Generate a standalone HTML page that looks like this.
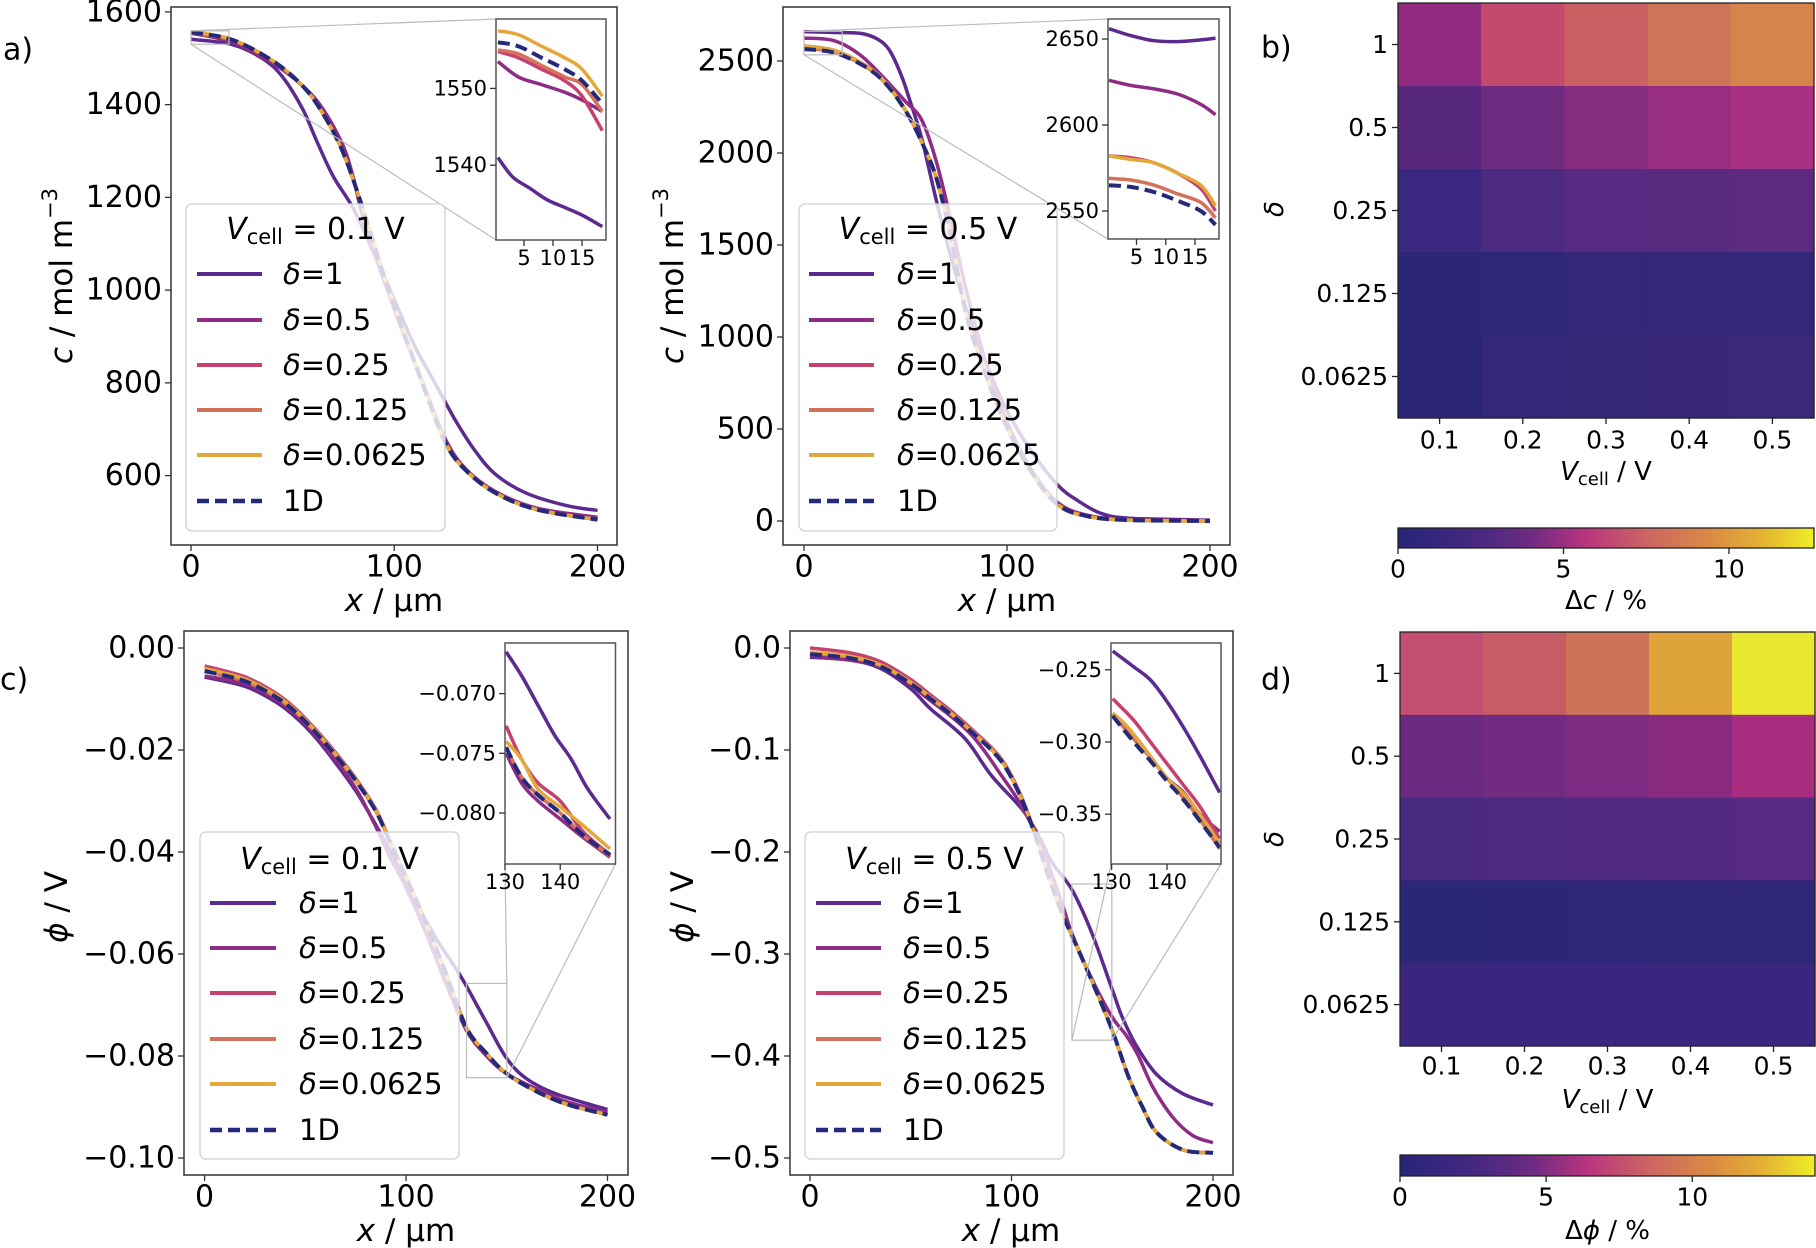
<!DOCTYPE html>
<html><head><meta charset="utf-8">
<style>
html,body{margin:0;padding:0;background:#fff;}
svg{display:block;font-family:"DejaVu Sans","Liberation Sans",sans-serif;}
</style></head>
<body>
<svg id="s" width="1816" height="1248" viewBox="0 0 1816 1248" xmlns="http://www.w3.org/2000/svg"></svg>
<script>
const COL={d1:'#5c2a8f',d05:'#8e2b85',d025:'#c6416f',d0125:'#d4715a',d00625:'#e4a73a',oneD:'#25297a'};
let out='';
function lin(p0,p1,v0,v1){return v=>p0+(v-v0)*(p1-p0)/(v1-v0);}
function path(pts){
  let d='M'+pts[0][0].toFixed(1)+','+pts[0][1].toFixed(1);
  for(let i=0;i<pts.length-1;i++){
    const p0=pts[i-1]||pts[i],p1=pts[i],p2=pts[i+1],p3=pts[i+2]||p2;
    const c1=[p1[0]+(p2[0]-p0[0])/6,p1[1]+(p2[1]-p0[1])/6];
    const c2=[p2[0]-(p3[0]-p1[0])/6,p2[1]-(p3[1]-p1[1])/6];
    d+=`C${c1[0].toFixed(1)},${c1[1].toFixed(1)} ${c2[0].toFixed(1)},${c2[1].toFixed(1)} ${p2[0].toFixed(1)},${p2[1].toFixed(1)}`;
  }
  return d;
}
function off(base,o,fade){return base.map(([x,v])=>[x,v+o*Math.max(0,1-x/fade)]);}
let clipId=0;
function curves(ax,X,Y,set,w){
  const id='c'+(clipId++);
  out+=`<clipPath id="${id}"><rect x="${ax.l}" y="${ax.t}" width="${ax.r-ax.l}" height="${ax.b-ax.t}"/></clipPath><g clip-path="url(#${id})" fill="none" stroke-linejoin="round">`;
  const order=['d1','d05','d025','d0125','d00625'];
  for(const k of order){const p=set[k].map(([x,v])=>[X(x),Y(v)]);out+=`<path d="${path(p)}" stroke="${COL[k]}" stroke-width="${w}"/>`;}
  const p=set.oneD.map(([x,v])=>[X(x),Y(v)]);
  out+=`<path d="${path(p)}" stroke="${COL.oneD}" stroke-width="${w+0.5}" stroke-dasharray="12,6"/>`;
  out+='</g>';
}
function frame(ax,col){out+=`<rect x="${ax.l}" y="${ax.t}" width="${ax.r-ax.l}" height="${ax.b-ax.t}" fill="none" stroke="${col||'#333'}" stroke-width="1.5"/>`;}
function xt(ax,X,vals,labs,fs,dy){vals.forEach((v,i)=>{const x=X(v);out+=`<line x1="${x}" y1="${ax.b}" x2="${x}" y2="${ax.b+6}" stroke="#333" stroke-width="1.3"/><text x="${x}" y="${ax.b+dy}" font-size="${fs}" text-anchor="middle" dominant-baseline="central">${labs[i]}</text>`;});}
function yt(ax,Y,vals,labs,fs){vals.forEach((v,i)=>{const y=Y(v);out+=`<line x1="${ax.l-6}" y1="${y}" x2="${ax.l}" y2="${y}" stroke="#333" stroke-width="1.3"/><text x="${ax.l-9}" y="${y}" font-size="${fs}" text-anchor="end" dominant-baseline="central">${labs[i]}</text>`;});}
function legend(b,vtxt,rows){
  out+=`<rect x="${b.l}" y="${b.t}" width="${b.r-b.l}" height="${b.b-b.t}" rx="6" fill="#fff" fill-opacity="0.8" stroke="#d0d0d0" stroke-width="1.3"/>`;
  out+=`<text x="${(b.l+b.r)/2}" y="${b.title}" font-size="30" text-anchor="middle" dominant-baseline="central"><tspan font-style="italic">V</tspan><tspan font-size="21" dy="8">cell</tspan><tspan dy="-8"> = ${vtxt} V</tspan></text>`;
  const keys=['d1','d05','d025','d0125','d00625','oneD'];
  const labs=['1','0.5','0.25','0.125','0.0625'];
  keys.forEach((k,i)=>{const y=rows[i];
    out+=`<line x1="${b.l1}" y1="${y}" x2="${b.l2}" y2="${y}" stroke="${COL[k]}" stroke-width="${k=='oneD'?4.5:4}" ${k=='oneD'?'stroke-dasharray="12,6"':''}/>`;
    out+=`<text x="${b.tx}" y="${y}" font-size="29" dominant-baseline="central">${k=='oneD'?'1D':'<tspan font-style="italic">δ</tspan>='+labs[i]}</text>`;});
}
function gline(x1,y1,x2,y2){out+=`<line x1="${x1}" y1="${y1}" x2="${x2}" y2="${y2}" stroke="#bbb" stroke-width="1.2"/>`;}
const TF=30, IF=21, LF=31;

// ===== Panel A =====
{
const ax={l:171,r:617,t:7,b:545};
const X=lin(191,597.5,0,200),Y=lin(11.9,475.6,1600,600);
const oneD=[[0,1556],[20,1540],[40,1495],[55,1440],[65,1380],[75,1295],[85,1170],[95,1030],[105,905],[115,785],[125,672],[135,612],[150,562],[170,527],[200,505]];
const set={oneD,
 d1:[[0,1541],[20,1530],[35,1500],[45,1460],[55,1390],[62,1320],[70,1245],[80,1175],[90,1080],[100,980],[110,880],[120,800],[130,720],[140,652],[150,602],[165,562],[185,535],[200,525]],
 d05:[[0,1554],[20,1535],[40,1490],[55,1440],[65,1390],[75,1310],[80,1240],[85,1150],[95,1020],[105,900],[115,790],[125,680],[135,615],[150,565],[170,530],[200,510]],
 d025:off(oneD,-1,60),d0125:off(oneD,-1,60),d00625:off(oneD,1.5,60)};
curves(ax,X,Y,set,3.5);
frame(ax);
xt(ax,X,[0,100,200],['0','100','200'],TF,22);
yt(ax,Y,[600,800,1000,1200,1400,1600],['600','800','1000','1200','1400','1600'],TF);
const ri={l:496,r:606,t:19,b:240};
gline(X(0),Y(1559),ri.l,ri.t);gline(X(0),Y(1530.3),ri.l,ri.b);
out+=`<rect x="${X(0)}" y="${Y(1559)}" width="${X(18.7)-X(0)}" height="${Y(1530.3)-Y(1559)}" fill="none" stroke="#bbb" stroke-width="1.2"/>`;
legend({l:186,r:445,t:204,b:531,title:229,l1:197,l2:262,tx:283},'0.1',[274,320,365,410,455,501]);
out+=`<rect x="${ri.l}" y="${ri.t}" width="${ri.r-ri.l}" height="${ri.b-ri.t}" fill="#fff"/>`;
const XI=lin(524,582,5,15),YI=lin(88.4,165.2,1550,1540);
curves(ri,XI,YI,{
 d1:[[0.5,1541],[3,1538.5],[6,1537],[9,1535.5],[12,1534.5],[15,1533.5],[18.5,1532]],
 d05:[[0.5,1553.5],[4,1551.5],[8,1550.5],[12,1549.5],[15,1548.5],[18.5,1547]],
 d025:[[0.5,1554.8],[4,1554],[8,1552.5],[12,1551],[15,1549],[18.5,1544.5]],
 d0125:[[0.5,1555],[4,1554.5],[8,1553],[12,1551.5],[15,1550.5],[18.5,1547]],
 oneD:[[0.5,1556],[4,1555.5],[8,1554],[12,1552.5],[15,1551],[18.5,1548]],
 d00625:[[0.5,1557.5],[4,1557],[8,1555.5],[12,1554],[15,1552.5],[18.5,1549]]},3.5);
frame(ri,'#555');
xt(ri,XI,[5,10,15],['5','10','15'],IF,18);
yt(ri,YI,[1540,1550],['1540','1550'],IF);
out+=`<text x="62" y="276" font-size="${LF}" text-anchor="middle" dominant-baseline="central" transform="rotate(-90 62 276)"><tspan font-style="italic">c</tspan> / mol m<tspan font-size="21" dy="-12">−3</tspan></text>`;
out+=`<text x="394" y="601" font-size="${LF}" text-anchor="middle" dominant-baseline="central"><tspan font-style="italic">x</tspan> / µm</text>`;
out+=`<text x="3" y="50" font-size="30" dominant-baseline="central">a)</text>`;
}
// ===== Panel A2 =====
{
const ax={l:783,r:1230,t:7,b:545};
const X=lin(804,1210,0,200),Y=lin(61,521,2500,0);
const oneD=[[0,2565],[15,2545],[30,2470],[40,2380],[50,2230],[58,2060],[65,1870],[72,1560],[80,1120],[90,780],[100,510],[112,265],[125,88],[140,25],[160,5],[200,0]];
const set={oneD,
 d1:[[0,2660],[15,2655],[28,2650],[36,2620],[42,2560],[48,2420],[52,2290],[58,2080],[65,1750],[72,1450],[80,1150],[90,850],[100,600],[112,380],[125,195],[135,110],[146,43],[160,15],[200,5]],
 d05:[[0,2625],[15,2610],[28,2530],[40,2400],[50,2280],[58,2180],[65,1960],[72,1650],[80,1250],[90,850],[100,540],[112,280],[125,100],[140,30],[160,8],[200,2]],
 d025:off(oneD,17,60),d0125:off(oneD,4,60),d00625:off(oneD,17,60)};
curves(ax,X,Y,set,3.5);
frame(ax);
xt(ax,X,[0,100,200],['0','100','200'],TF,22);
yt(ax,Y,[0,500,1000,1500,2000,2500],['0','500','1000','1500','2000','2500'],TF);
const ri={l:1108,r:1219,t:19,b:239};
gline(X(0),Y(2661.6),ri.l,ri.t);gline(X(0),Y(2533.7),ri.l,ri.b);
out+=`<rect x="${X(0)}" y="${Y(2661.6)}" width="${X(18.8)-X(0)}" height="${Y(2533.7)-Y(2661.6)}" fill="none" stroke="#bbb" stroke-width="1.2"/>`;
legend({l:799,r:1057,t:204,b:531,title:229,l1:809,l2:874,tx:897},'0.5',[274,320,365,410,455,501]);
out+=`<rect x="${ri.l}" y="${ri.t}" width="${ri.r-ri.l}" height="${ri.b-ri.t}" fill="#fff"/>`;
const XI=lin(1136.5,1195,5,15),YI=lin(39,211,2650,2550);
curves(ri,XI,YI,{
 d1:[[0.3,2656],[4,2652],[8,2649],[12,2648.5],[16,2649.5],[18.5,2650.5]],
 d05:[[0.3,2626],[4,2623],[8,2621],[12,2618],[16,2612],[18.5,2606]],
 d025:[[0.3,2582],[4,2581],[8,2578],[12,2572],[16,2563],[18.5,2550]],
 d00625:[[0.3,2582],[4,2580],[8,2578],[12,2572],[16,2565],[18.5,2553]],
 d0125:[[0.3,2569],[4,2568],[8,2565],[12,2560],[16,2555],[18.5,2546]],
 oneD:[[0.3,2565],[4,2564],[8,2561],[12,2556],[16,2550],[18.5,2542]]},3.5);
frame(ri,'#555');
xt(ri,XI,[5,10,15],['5','10','15'],IF,18);
yt(ri,YI,[2550,2600,2650],['2550','2600','2650'],IF);
out+=`<text x="673" y="276" font-size="${LF}" text-anchor="middle" dominant-baseline="central" transform="rotate(-90 673 276)"><tspan font-style="italic">c</tspan> / mol m<tspan font-size="21" dy="-12">−3</tspan></text>`;
out+=`<text x="1007" y="601" font-size="${LF}" text-anchor="middle" dominant-baseline="central"><tspan font-style="italic">x</tspan> / µm</text>`;
}
// ===== Panel C =====
{
const ax={l:184,r:628,t:631,b:1175};
const X=lin(204.6,607.5,0,200),Y=lin(648,1158,0,-0.10);
const oneD=[[0,-0.0045],[20,-0.0065],[35,-0.0095],[45,-0.0125],[55,-0.0165],[65,-0.021],[75,-0.026],[85,-0.032],[92,-0.038],[100,-0.045],[110,-0.054],[120,-0.064],[130,-0.0745],[140,-0.0795],[150,-0.0835],[165,-0.087],[180,-0.0895],[200,-0.0915]];
const set={oneD,
 d1:[[0,-0.0057],[20,-0.0075],[35,-0.0105],[45,-0.0135],[55,-0.0175],[65,-0.0225],[75,-0.028],[84,-0.034],[95,-0.042],[105,-0.050],[115,-0.057],[125,-0.063],[130,-0.0663],[140,-0.0735],[150,-0.0805],[160,-0.0845],[175,-0.0875],[200,-0.0905]],
 d05:[[0,-0.0055],[20,-0.007],[35,-0.010],[45,-0.013],[55,-0.017],[65,-0.022],[75,-0.0275],[85,-0.035],[92,-0.041],[100,-0.047],[110,-0.056],[120,-0.066],[130,-0.075],[140,-0.080],[150,-0.0835],[165,-0.0865],[180,-0.089],[200,-0.091]],
 d025:off(oneD,0.001,130),d0125:off(oneD,0,60),d00625:off(oneD,0.0005,130)};
curves(ax,X,Y,set,3.5);
frame(ax);
xt(ax,X,[0,100,200],['0','100','200'],TF,22);
yt(ax,Y,[0,-0.02,-0.04,-0.06,-0.08,-0.10],['0.00','−0.02','−0.04','−0.06','−0.08','−0.10'],TF);
const ri={l:505,r:615.5,t:643,b:864};
const rx1=X(130),rx2=X(150),ry1=Y(-0.06577),ry2=Y(-0.08426);
out+=`<rect x="${rx1}" y="${ry1}" width="${rx2-rx1}" height="${ry2-ry1}" fill="none" stroke="#bbb" stroke-width="1.2"/>`;
gline(rx2,ry1,ri.l,ri.b);gline(rx2,ry2,ri.r,ri.b);
legend({l:200,r:459,t:832,b:1159,title:859,l1:210,l2:276,tx:299},'0.1',[903,948,993,1039,1084,1130]);
out+=`<rect x="${ri.l}" y="${ri.t}" width="${ri.r-ri.l}" height="${ri.b-ri.t}" fill="#fff"/>`;
const XI=lin(505,615.5,130,150),YI=lin(693.6,813,-0.070,-0.080);
curves(ri,XI,YI,{
 d1:[[130.2,-0.0665],[133,-0.0685],[136,-0.071],[139,-0.0735],[142,-0.0755],[145,-0.078],[149,-0.0805]],
 d025:[[130.2,-0.0727],[133,-0.0755],[136,-0.0775],[140,-0.079],[144,-0.0815],[149,-0.0835]],
 d05:[[130.2,-0.075],[133,-0.0775],[136,-0.079],[140,-0.0805],[144,-0.082],[149,-0.0837]],
 d00625:[[130.2,-0.074],[133,-0.0755],[136,-0.078],[140,-0.0795],[144,-0.081],[149,-0.083]],
 d0125:[[130.2,-0.0745],[133,-0.077],[136,-0.0785],[140,-0.0800],[144,-0.0818],[149,-0.0836]],
 oneD:[[130.2,-0.0745],[133,-0.077],[136,-0.0785],[140,-0.080],[144,-0.0818],[149,-0.0835]]},3.5);
frame(ri,'#555');
xt(ri,XI,[130,140],['130','140'],IF,18);
yt(ri,YI,[-0.070,-0.075,-0.080],['−0.070','−0.075','−0.080'],IF);
out+=`<text x="57" y="907" font-size="${LF}" text-anchor="middle" dominant-baseline="central" transform="rotate(-90 57 907)"><tspan font-style="italic">ϕ</tspan> / V</text>`;
out+=`<text x="406" y="1231" font-size="${LF}" text-anchor="middle" dominant-baseline="central"><tspan font-style="italic">x</tspan> / µm</text>`;
out+=`<text x="0" y="680" font-size="30" dominant-baseline="central">c)</text>`;
}
// ===== Panel C2 =====
{
const ax={l:790,r:1233,t:631,b:1175};
const X=lin(810,1213,0,200),Y=lin(648,1158,0,-0.5);
const oneD=[[0,-0.006],[20,-0.010],[35,-0.018],[50,-0.035],[60,-0.05],[70,-0.065],[80,-0.082],[90,-0.10],[97,-0.117],[105,-0.148],[112,-0.185],[118,-0.222],[125,-0.26],[130,-0.282],[140,-0.327],[150,-0.375],[158,-0.42],[165,-0.45],[172,-0.475],[185,-0.492],[200,-0.495]];
const set={oneD,
 d1:[[0,-0.009],[20,-0.012],[35,-0.02],[50,-0.04],[60,-0.06],[77,-0.089],[90,-0.125],[106,-0.160],[115,-0.19],[120,-0.21],[130,-0.237],[140,-0.28],[150,-0.335],[155,-0.362],[162,-0.39],[172,-0.418],[185,-0.437],[200,-0.448]],
 d05:[[0,-0.008],[35,-0.018],[60,-0.052],[80,-0.085],[95,-0.125],[105,-0.155],[115,-0.195],[125,-0.25],[130,-0.28],[140,-0.325],[150,-0.362],[157,-0.38],[163,-0.40],[170,-0.43],[180,-0.46],[190,-0.478],[200,-0.485]],
 d025:off(oneD,0.006,150),d0125:off(oneD,0.001,150),d00625:off(oneD,0.002,150)};
curves(ax,X,Y,set,3.5);
frame(ax);
xt(ax,X,[0,100,200],['0','100','200'],TF,22);
yt(ax,Y,[0,-0.1,-0.2,-0.3,-0.4,-0.5],['0.0','−0.1','−0.2','−0.3','−0.4','−0.5'],TF);
const ri={l:1111,r:1221,t:643,b:864};
const rx1=X(130),rx2=X(149.8),ry1=Y(-0.2314),ry2=Y(-0.3845);
out+=`<rect x="${rx1}" y="${ry1}" width="${rx2-rx1}" height="${ry2-ry1}" fill="none" stroke="#bbb" stroke-width="1.2"/>`;
gline(rx1,ry2,ri.l,ri.b);gline(rx2,ry2,ri.r,ri.b);
legend({l:805,r:1064,t:832,b:1159,title:859,l1:816,l2:881,tx:903},'0.5',[903,948,993,1039,1084,1130]);
out+=`<rect x="${ri.l}" y="${ri.t}" width="${ri.r-ri.l}" height="${ri.b-ri.t}" fill="#fff"/>`;
const XI=lin(1111.6,1167,130,140),YI=lin(669.8,814.2,-0.25,-0.35);
curves(ri,XI,YI,{
 d1:[[130.2,-0.237],[134,-0.248],[137,-0.257],[140,-0.272],[143,-0.29],[146,-0.31],[149.5,-0.335]],
 d025:[[130.2,-0.27],[134,-0.285],[137,-0.30],[140,-0.315],[143,-0.33],[146,-0.345],[149.5,-0.367]],
 d05:[[130.2,-0.28],[134,-0.295],[137,-0.31],[140,-0.325],[143,-0.335],[146,-0.350],[149.5,-0.362]],
 d00625:[[130.2,-0.28],[133,-0.29],[136,-0.305],[140,-0.325],[144,-0.34],[149.5,-0.37]],
 d0125:[[130.2,-0.281],[134,-0.298],[137,-0.311],[140,-0.325],[143,-0.339],[146,-0.354],[149.5,-0.374]],
 oneD:[[130.2,-0.282],[134,-0.3],[137,-0.313],[140,-0.327],[143,-0.340],[146,-0.355],[149.5,-0.373]]},3.5);
frame(ri,'#555');
xt(ri,XI,[130,140],['130','140'],IF,18);
yt(ri,YI,[-0.25,-0.30,-0.35],['−0.25','−0.30','−0.35'],IF);
out+=`<text x="683" y="907" font-size="${LF}" text-anchor="middle" dominant-baseline="central" transform="rotate(-90 683 907)"><tspan font-style="italic">ϕ</tspan> / V</text>`;
out+=`<text x="1011" y="1231" font-size="${LF}" text-anchor="middle" dominant-baseline="central"><tspan font-style="italic">x</tspan> / µm</text>`;
}
// ===== Heatmaps =====
function heat(o){
  const w=(o.r-o.l)/5,h=(o.b-o.t)/5;
  o.cols.forEach((row,i)=>row.forEach((c,j)=>{out+=`<rect x="${(o.l+j*w).toFixed(1)}" y="${(o.t+i*h).toFixed(1)}" width="${(w+0.6).toFixed(1)}" height="${(h+0.6).toFixed(1)}" fill="${c}"/>`;}));
  out+=`<rect x="${o.l}" y="${o.t}" width="${o.r-o.l}" height="${o.b-o.t}" fill="none" stroke="#222" stroke-width="1.3"/>`;
  ['1','0.5','0.25','0.125','0.0625'].forEach((t,i)=>{const y=o.t+(i+0.5)*h;out+=`<line x1="${o.l-6}" y1="${y}" x2="${o.l}" y2="${y}" stroke="#222" stroke-width="1.3"/><text x="${o.l-10}" y="${y}" font-size="25" text-anchor="end" dominant-baseline="central">${t}</text>`;});
  ['0.1','0.2','0.3','0.4','0.5'].forEach((t,j)=>{const x=o.l+(j+0.5)*w;out+=`<line x1="${x}" y1="${o.b}" x2="${x}" y2="${o.b+6}" stroke="#222" stroke-width="1.3"/><text x="${x}" y="${o.xl}" font-size="25" text-anchor="middle" dominant-baseline="central">${t}</text>`;});
  const cx=(o.l+o.r)/2;
  out+=`<text x="${cx}" y="${o.xlab}" font-size="26" text-anchor="middle" dominant-baseline="central"><tspan font-style="italic">V</tspan><tspan font-size="18" dy="7">cell</tspan><tspan dy="-7"> / V</tspan></text>`;
  out+=`<text x="1275" y="${o.dy}" font-size="26" text-anchor="middle" dominant-baseline="central" font-style="italic" transform="rotate(-90 1275 ${o.dy})">δ</text>`;
  out+=`<text x="1261" y="${o.lety}" font-size="30" dominant-baseline="central">${o.letter}</text>`;
  out+=`<rect x="${o.l}" y="${o.ct}" width="${o.r-o.l}" height="${o.cb-o.ct}" fill="url(#pl)" stroke="#222" stroke-width="1.3"/>`;
  const CX=lin(o.l,o.l+(o.r-o.l)*5/o.cmax,0,5);
  [0,5,10].forEach(v=>{const x=CX(v);out+=`<line x1="${x}" y1="${o.cb}" x2="${x}" y2="${o.cb+6}" stroke="#222" stroke-width="1.3"/><text x="${x}" y="${o.cl}" font-size="25" text-anchor="middle" dominant-baseline="central">${v}</text>`;});
  out+=`<text x="${cx}" y="${o.clab}" font-size="26" text-anchor="middle" dominant-baseline="central">Δ<tspan font-style="italic">${o.sym}</tspan> / %</text>`;
}
out+=`<defs><linearGradient id="pl" x1="0" x2="1" y1="0" y2="0"><stop offset="0" stop-color="#27237a"/><stop offset="0.2" stop-color="#4a2880"/><stop offset="0.32" stop-color="#6e2b82"/><stop offset="0.45" stop-color="#b8347f"/><stop offset="0.6" stop-color="#cc6562"/><stop offset="0.75" stop-color="#da8a44"/><stop offset="0.88" stop-color="#e4b432"/><stop offset="1" stop-color="#f0ee26"/></linearGradient></defs>`;
heat({l:1398,r:1814,t:3,b:418,xl:440,xlab:472,dy:209,lety:48,letter:'b)',ct:528,cb:548,cl:569,clab:601,cmax:12.57,sym:'c',
 cols:[['#932c80','#c34a6e','#c96162','#cf7456','#d5844b'],
       ['#57287d','#6e2c80','#862d80','#982e80','#a93184'],
       ['#3a2880','#4b2a7f','#562a80','#582b80','#5c2b80'],
       ['#2d2677','#2e2778','#332779','#342779','#342779'],
       ['#2b2476','#342779','#372779','#392779','#3a2879']]});
heat({l:1400,r:1815,t:632,b:1046,xl:1066,xlab:1100,dy:839,lety:680,letter:'d)',ct:1155,cb:1176,cl:1197,clab:1231,cmax:14.2,sym:'ϕ',
 cols:[['#c44f73','#c65c64','#cc7556','#dea33a','#e9e82f'],
       ['#6a2a80','#722b81','#7d2b83','#8a2b80','#a82d80'],
       ['#4a2a80','#4b2a7f','#4f2a80','#512a80','#552a80'],
       ['#2c2677','#2d2678','#2f2679','#2f2678','#302678'],
       ['#3a2680','#3a2680','#3a2680','#3a2680','#3a2680']]});
document.getElementById('s').innerHTML=out;
</script>
</body></html>
